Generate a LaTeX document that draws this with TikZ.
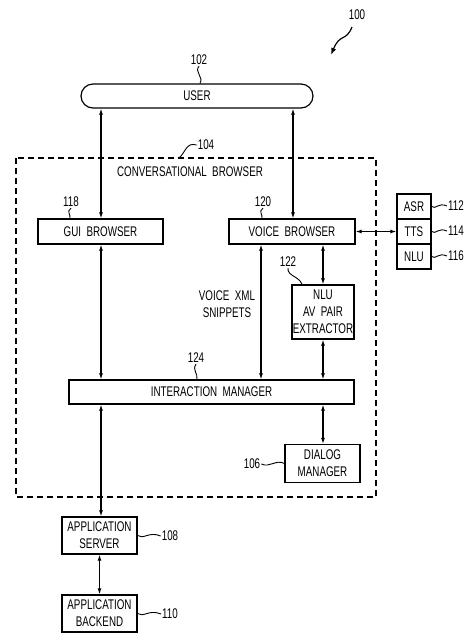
\documentclass[tikz,border=0pt]{standalone}
\usepackage{fontspec}
\setmainfont{Liberation Sans}[FakeStretch=0.70]
\usetikzlibrary{arrows.meta}
\begin{document}
\begin{tikzpicture}[x=1pt,y=-1pt,font=\fontsize{14}{17}\selectfont,
  box/.style={draw,line width=1.2pt,inner sep=0pt,align=center},
  arr/.style={{Latex[length=6pt,width=4pt]}-{Latex[length=6pt,width=4pt]},line width=1.2pt},
  lead/.style={line width=0.9pt},
  num/.style={inner sep=1pt}]
\useasboundingbox (0,0) rectangle (474,641);
% dashed container
\draw[line width=1.2pt,dash pattern=on 6pt off 4pt] (16,158) rectangle (376,497);
\node (cb) at (190,172) {CONVERSATIONAL\ \ BROWSER};
% boxes
\node[box,rounded corners=12pt,minimum width=232pt,minimum height=24pt] (user) at (197,96) {USER};
\node[box,minimum width=125pt,minimum height=25pt] (gui) at (100.5,231.5) {GUI\ \ BROWSER};
\node[box,minimum width=126pt,minimum height=25pt] (voice) at (292,231.5) {VOICE\ \ BROWSER};
\node[box,minimum width=34pt,minimum height=25pt] (asr) at (414,206.5) {ASR};
\node[box,minimum width=34pt,minimum height=25pt] (tts) at (414,231.5) {TTS};
\node[box,minimum width=34pt,minimum height=25pt] (nluu) at (414,256.5) {NLU};
\node[box,minimum width=62pt,minimum height=54pt] (nlu) at (323,312) {NLU\\AV\ \ PAIR\\EXTRACTOR};
\node[box,minimum width=285pt,minimum height=24pt] (im) at (211.5,392) {INTERACTION\ \ MANAGER};
\node[box,minimum width=75pt,minimum height=38pt] (dm) at (322.5,463.5) {DIALOG\\MANAGER};
\node[box,minimum width=75pt,minimum height=37pt] (as) at (99.5,535.5) {APPLICATION\\SERVER};
\node[box,minimum width=75pt,minimum height=37pt] (ab) at (99.5,613.5) {APPLICATION\\BACKEND};
\node[align=center] (vxml) at (227,304.5) {VOICE\ \ XML\\SNIPPETS};
% connectors
\coordinate (gx) at (101,0);
\coordinate (vx) at (293,0);
\coordinate (sx) at (261,0);
\coordinate (nx) at (323,0);
\draw[arr] (user.south -| gx) -- (gui.north -| gx);
\draw[arr] (user.south -| vx) -- (voice.north -| vx);
\draw[arr] (gui.south -| gx) -- (im.north -| gx);
\draw[arr] (voice.south -| sx) -- (im.north -| sx);
\draw[arr] (voice.south -| nx) -- (nlu.north -| nx);
\draw[arr] (nlu.south -| nx) -- (im.north -| nx);
\draw[arr] (im.south -| nx) -- (dm.north -| nx);
\draw[arr] (im.south -| gx) -- (as.north -| gx);
\draw[arr] (as.south) -- (ab.north);
\draw[arr] (voice.east) -- (tts.west);
% reference numerals
\node[num] (l100) at (357,15) {100};
\node[num] (l102) at (199,60) {102};
\node[num] (l104) at (206,145) {104};
\node[num] (l118) at (71,202) {118};
\node[num] (l120) at (263,202) {120};
\node[num] (l122) at (288,262) {122};
\node[num] (l124) at (196,358) {124};
\node[num] (l106) at (252,464) {106};
\node[num] (l108) at (170,536) {108};
\node[num] (l110) at (170,614) {110};
\node[num] (l112) at (456,206) {112};
\node[num] (l114) at (456,231) {114};
\node[num] (l116) at (456,256) {116};
% leaders
\draw[line width=1.2pt,-{Latex[length=7pt,width=5pt]}] (352,27) .. controls (346,42) and (340,33) .. (331,55);
\draw[lead] (l102.south) .. controls (194,72) and (204,77) .. (user.north -| 200,0);
\draw[lead] (l104.west) .. controls (186,142) and (186,152) .. (179,158);
\draw[lead] (l118.south) .. controls (66,212) and (71,214) .. (gui.north -| 70,0);
\draw[lead] (l120.south) .. controls (258,212) and (263,214) .. (voice.north -| 262,0);
\draw[lead] (l122.south) .. controls (287,276) and (299,276) .. (nlu.north -| 302,0);
\draw[lead] (l124.south) .. controls (192,370) and (198,373) .. (im.north -| 197,0);
\draw[lead] (l106.east) .. controls (270,468) and (276,459) .. (dm.west);
\draw[lead] (as.east) .. controls (143,540) and (149,531) .. (l108.west);
\draw[lead] (ab.east) .. controls (143,618) and (149,609) .. (l110.west);
\draw[lead] (asr.east) .. controls (436,210) and (438,202) .. (l112.west);
\draw[lead] (tts.east) .. controls (436,235) and (438,227) .. (l114.west);
\draw[lead] (nluu.east) .. controls (436,260) and (438,252) .. (l116.west);
\end{tikzpicture}
\end{document}
